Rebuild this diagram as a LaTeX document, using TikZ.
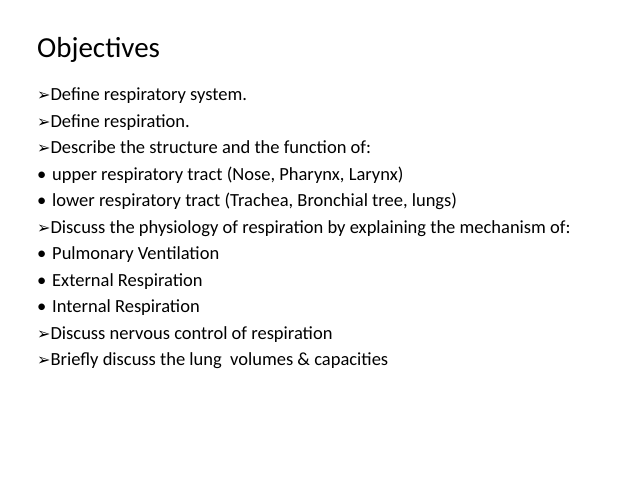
\documentclass[tikz,border=0pt]{standalone}
\usepackage{fontspec}
\setmainfont{Carlito}
\newfontfamily\symf{DejaVu Sans}
\begin{document}
\begin{tikzpicture}[x=1pt,y=-1pt,
  itm/.style={anchor=base west,inner sep=0pt,font=\fontsize{18.5}{20}\selectfont}]
\useasboundingbox[fill=white] (0,0) rectangle (638,478);
\node[anchor=base west,inner sep=0pt,font=\fontsize{29}{32}\selectfont] (title) at (37,58) {Objectives};
\newcommand\arr{{\symf\fontsize{16}{18}\selectfont ➢}}
\newcommand\bul{\makebox[15pt][l]{•}}
\node[itm] (l1) at (37,101) {\arr Define respiratory system.};
\node[itm] (l2) at (37,128) {\arr Define respiration.};
\node[itm] (l3) at (37,154) {\arr Describe the structure and the function of:};
\node[itm] (l4) at (37,181) {\bul upper respiratory tract (Nose, Pharynx, Larynx)};
\node[itm] (l5) at (37,207) {\bul lower respiratory tract (Trachea, Bronchial tree, lungs)};
\node[itm] (l6) at (37,234) {\arr Discuss the physiology of respiration by explaining the mechanism of:};
\node[itm] (l7) at (37,260) {\bul Pulmonary Ventilation};
\node[itm] (l8) at (37,287) {\bul External Respiration};
\node[itm] (l9) at (37,313) {\bul Internal Respiration};
\node[itm] (l10) at (37,340) {\arr Discuss nervous control of respiration};
\node[itm] (l11) at (37,366) {\arr Briefly discuss the lung\ \ volumes \& capacities};
\end{tikzpicture}
\end{document}
